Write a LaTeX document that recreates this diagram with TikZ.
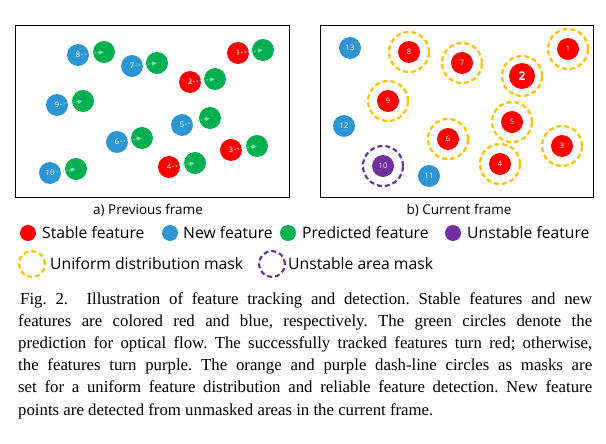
\documentclass[tikz,border=0pt]{standalone}
\usepackage{fontspec}
\setmainfont{Liberation Serif}
\newfontfamily\myss{Open Sans}
\usetikzlibrary{arrows.meta}
\definecolor{cred}{HTML}{FF0000}
\definecolor{cblue}{HTML}{2E95D3}
\definecolor{cgreen}{HTML}{00B050}
\definecolor{cpurple}{HTML}{7030A0}
\definecolor{cyel}{HTML}{FFC000}
\definecolor{lgreen}{HTML}{7FD8A8}
\begin{document}
\frenchspacing
\begin{tikzpicture}[x=1pt,y=-1pt,
 feat/.style={circle,minimum size=22pt,inner sep=0pt,text=white,font=\myss\fontsize{7.5}{7.5}\selectfont},
 st/.style={feat,fill=cred}, nw/.style={feat,fill=cblue}, pr/.style={feat,fill=cgreen},
 un/.style={feat,fill=cpurple},
 mask/.style={circle,minimum size=40pt,inner sep=0pt,draw=cyel,line width=2.2pt,dash pattern=on 5pt off 3pt},
 umask/.style={mask,draw=cpurple},
 flow/.style={draw=lgreen,line width=1.3pt,dotted,-{Triangle[length=5pt,width=4pt,fill=lgreen]}},
 frame/.style={draw,line width=0.8pt},
 lab/.style={font=\myss\fontsize{15.7}{15.7}\selectfont,anchor=west,inner sep=0pt}]
\useasboundingbox (0,0) rectangle (606,444);
\draw[frame] (15,25) rectangle (289,197);
\draw[frame] (320,25) rectangle (593,197);
% previous frame
\foreach \n/\s/\x/\y/\gx/\gy in {8/nw/78/55/104/52, 7/nw/132/66/157/63, 1/st/238/53/263/50,
 2/st/190/82/215/79, 9/nw/57/105/83/101, 5/nw/182/125/210/118, 6/nw/117/142/142/138,
 3/st/231/150/257/146, 4/st/169/167/195/163, 10/nw/50/173/76/169}{
 \node[pr] (g\n) at (\gx,\gy) {};
 \node[\s] (p\n) at (\x,\y) {\n};
 \draw[flow] (p\n.center) -- (g\n.center);
}
% current frame
\foreach \n/\x/\y in {8/409/52, 7/462/63, 1/568/49, 9/388/101, 5/512/122, 6/448/139, 3/562/146, 4/500/164}{
 \node[mask] (m\n) at (\x,\y) {};
 \node[st] (c\n) at (\x,\y) {\n};
}
\node[mask] (m2) at (522,76) {};
\node[st,minimum size=26pt,font=\myss\bfseries\fontsize{12}{12}\selectfont] (c2) at (522,76) {2};
\node[umask] (m10) at (383,166) {};
\node[un] (c10) at (383,166) {10};
\node[nw] (c13) at (350,48) {13};
\node[nw] (c12) at (344,126) {12};
\node[nw] (c11) at (429,176) {11};
\node[font=\myss\fontsize{13.5}{13.5}\selectfont] (ca) at (148,210) {a) Previous frame};
\node[font=\myss\fontsize{13.5}{13.5}\selectfont] (cb) at (459,210) {b) Current frame};
% legend
\node[circle,fill=cred,minimum size=16pt,inner sep=0pt] (l1) at (28,233) {};
\node[lab] (t1) at (42,233) {Stable feature};
\node[circle,fill=cblue,minimum size=16pt,inner sep=0pt] (l2) at (170,233) {};
\node[lab] (t2) at (183,233) {New feature};
\node[circle,fill=cgreen,minimum size=16pt,inner sep=0pt] (l3) at (288,233) {};
\node[lab] (t3) at (302,233) {Predicted feature};
\node[circle,fill=cpurple,minimum size=16pt,inner sep=0pt] (l4) at (453,233) {};
\node[lab] (t4) at (467,233) {Unstable feature};
\node[circle,draw=cyel,line width=2.2pt,dash pattern=on 5pt off 3pt,minimum size=26pt,inner sep=0pt] (l5) at (32,264) {};
\node[lab] (t5) at (50,264) {Uniform distribution mask};
\node[circle,draw=cpurple,line width=2.2pt,dash pattern=on 5pt off 3pt,minimum size=26pt,inner sep=0pt] (l6) at (272,264) {};
\node[lab] (t6) at (288,264) {Unstable area mask};
% caption
\node[anchor=north west,inner sep=0pt,text width=574pt,align=justify,font=\fontsize{16.8}{22.2}\selectfont] (cap) at (18,292) {%
\hspace*{2pt}Fig. 2.\hspace{1.1em}Illustration of feature tracking and detection. Stable features and new\linebreak features are colored red and blue, respectively. The green circles denote the\linebreak prediction for optical flow. The successfully tracked features turn red; otherwise,\linebreak the features turn purple. The orange and purple dash-line circles as masks are\linebreak set for a uniform feature distribution and reliable feature detection. New feature\linebreak points are detected from unmasked areas in the current frame.};
\end{tikzpicture}
\end{document}
